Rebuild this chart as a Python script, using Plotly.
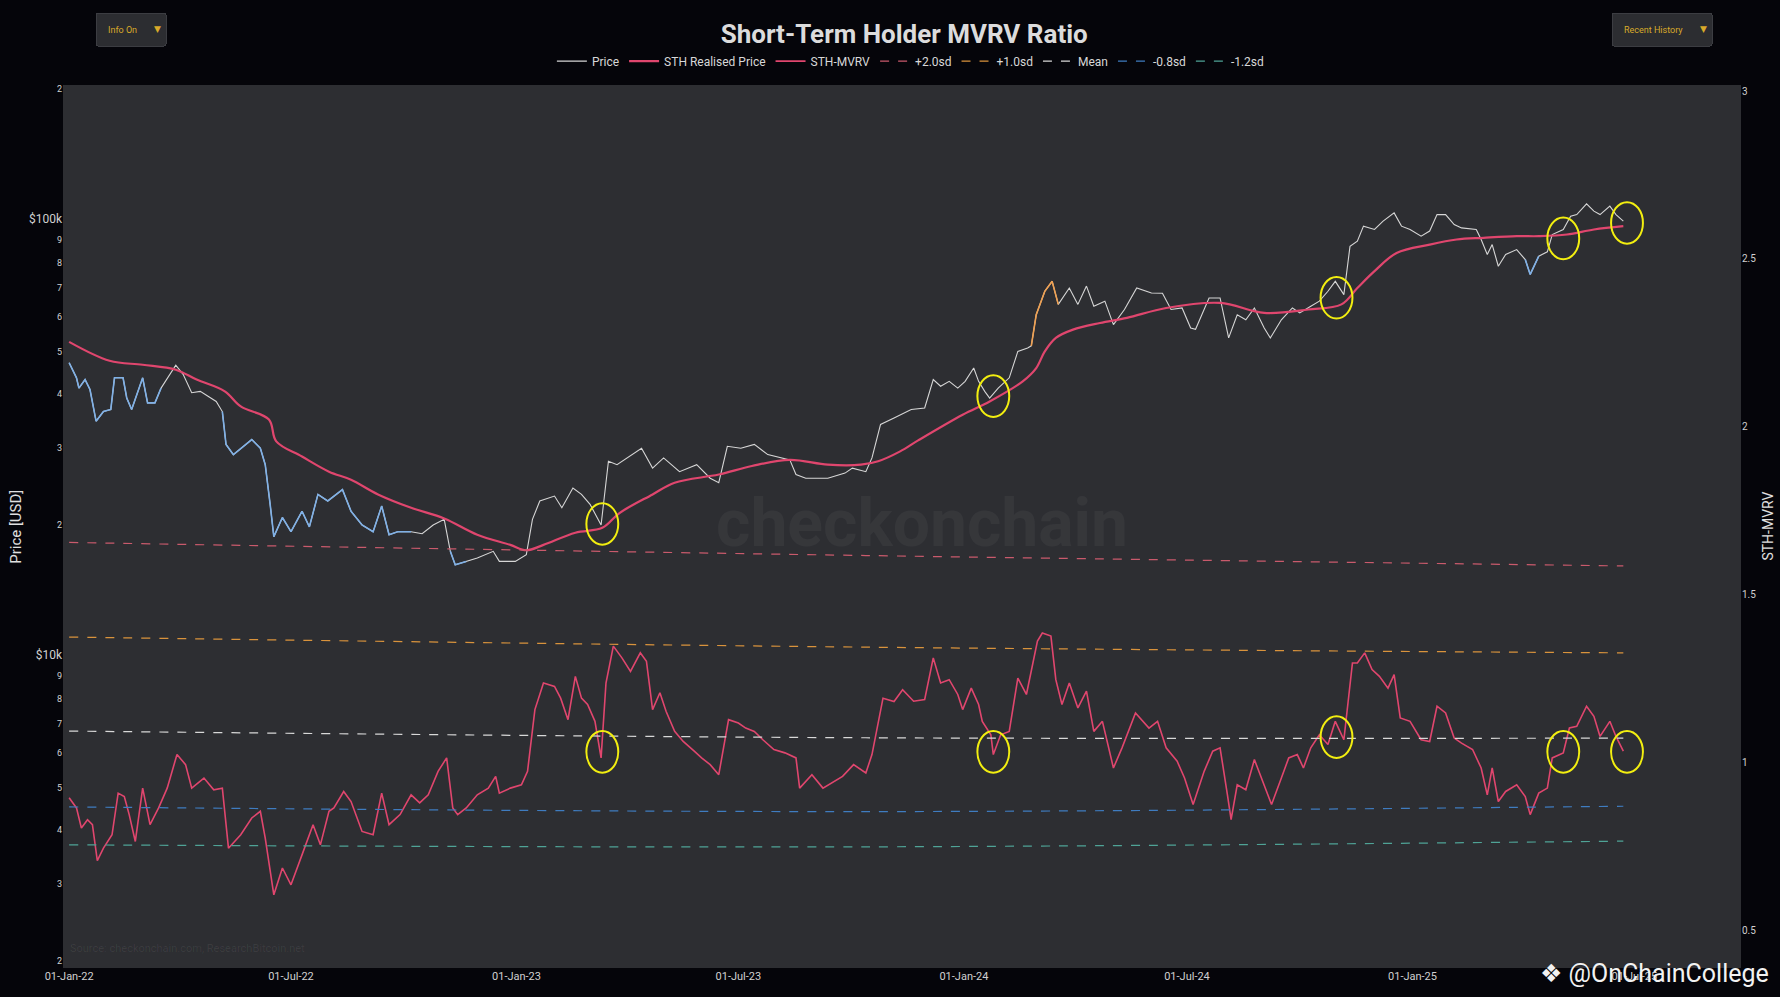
import numpy as np
import pandas as pd
import plotly.graph_objects as go

# all x values are days counted from 01-Jan-22
start = pd.Timestamp("2022-01-01")

# btc price (thousand usd)
price_day = [0, 6, 8, 13, 17, 22, 28, 34, 37, 44, 47, 51, 60, 64, 70, 75, 87, 93, 100, 107,
             113, 120, 125, 128, 134, 140, 149, 156, 160, 164, 167, 174, 181, 190, 196, 203, 211, 223, 230, 239,
             248, 255, 261, 268, 279, 288, 297, 306, 311, 315, 324, 333, 346, 351, 364, 373, 378, 384, 396, 402,
             411, 418, 425, 434, 440, 447, 467, 476, 485, 498, 512, 523, 530, 537, 548, 559, 570, 588, 593, 601,
             619, 633, 639, 650, 655, 662, 673, 687, 698, 705, 711, 718, 725, 731, 738, 742, 747, 751, 758, 767,
             774, 782, 785, 789, 796, 802, 807, 816, 823, 830, 836, 845, 852, 861, 871, 883, 892, 899, 908, 915,
             919, 930, 939, 946, 953, 960, 967, 975, 980, 989, 998, 1004, 1013, 1020, 1027, 1033, 1040, 1045, 1051, 1056,
             1065, 1072, 1081, 1087, 1094, 1103, 1110, 1116, 1123, 1130, 1136, 1148, 1152, 1157, 1161, 1166, 1172, 1181, 1188, 1192,
             1199, 1206, 1210, 1219, 1225, 1230, 1238, 1244, 1249, 1257, 1262, 1268]
price_k = [47.1, 43.5, 41.2, 43.1, 40.9, 34.6, 36.4, 36.8, 43.5, 43.5, 39.1, 36.8, 43.5, 38.1, 38.1, 41.2, 46.5, 44.3, 40.2, 40.5,
           39.5, 38.4, 36.4, 30.6, 29.0, 30.0, 31.4, 30.0, 27.5, 22.3, 18.8, 20.8, 19.3, 21.5, 19.8, 23.5, 22.7, 24.1, 21.5, 20.0,
           19.3, 22.1, 19.0, 19.3, 19.3, 19.1, 20.0, 20.6, 17.4, 16.2, 16.5, 16.8, 17.4, 16.5, 16.5, 17.1, 20.6, 22.7, 23.3, 21.9,
           24.3, 23.5, 22.3, 20.0, 28.0, 27.5, 30.0, 27.0, 28.5, 26.5, 27.5, 25.6, 25.0, 30.3, 30.0, 30.6, 29.0, 28.2, 26.1, 25.6,
           25.6, 26.3, 27.0, 26.5, 28.5, 34.0, 35.2, 36.8, 37.1, 43.1, 41.6, 42.7, 41.2, 42.7, 45.8, 42.7, 40.5, 39.1, 41.2, 43.5,
           50.0, 50.9, 51.5, 60.7, 68.7, 72.4, 64.1, 69.9, 64.1, 70.6, 63.5, 65.2, 57.6, 62.4, 69.9, 68.1, 68.0, 62.4, 62.9, 56.6,
           56.2, 66.3, 66.3, 53.7, 60.7, 59.1, 62.9, 56.6, 53.7, 59.1, 62.9, 61.3, 63.5, 65.2, 68.7, 72.4, 67.5, 87.1, 89.5, 96.9,
           95.2, 99.5, 103.9, 96.9, 95.2, 91.9, 94.4, 103.0, 103.0, 97.7, 96.0, 95.2, 90.3, 83.4, 87.9, 78.4, 83.4, 85.6, 81.2, 75.1,
           82.7, 84.6, 92.7, 95.2, 102.1, 103.0, 109.0, 104.9, 103.0, 107.7, 103.0, 99.5]

# sth realised price (thousand usd)
real_day = [0, 33, 60, 87, 104, 127, 140, 163, 169, 190, 212, 230, 252, 279, 306, 333, 360, 373, 387, 413,
            435, 449, 476, 494, 530, 557, 588, 619, 646, 660, 678, 693, 729, 751, 778, 789, 796, 805, 819, 841,
            863, 895, 939, 975, 1011, 1038, 1051, 1065, 1083, 1110, 1132, 1154, 1181, 1199, 1222, 1244, 1268]
real_k = [52.6, 47.6, 46.6, 45.4, 43.1, 40.5, 37.4, 34.9, 31.1, 28.7, 26.5, 25.4, 23.5, 21.9, 20.7, 19.0, 18.0, 17.5, 18.0, 19.2,
          19.7, 21.3, 23.5, 25.0, 26.1, 27.3, 28.2, 27.5, 27.5, 28.0, 29.5, 31.3, 35.8, 38.4, 42.7, 45.8, 50.0, 53.7, 56.1, 58.1,
          59.7, 62.9, 64.6, 61.3, 62.4, 64.1, 69.9, 76.4, 84.1, 87.9, 90.3, 91.1, 91.9, 91.9, 92.7, 95.2, 96.9]

# sth-mvrv ratio
mvrv_day = [0, 6, 10, 15, 19, 23, 28, 35, 40, 45, 49, 54, 60, 66, 73, 80, 88, 95, 100, 110,
            118, 125, 130, 140, 149, 156, 160, 167, 174, 181, 190, 199, 205, 212, 216, 224, 230, 239, 248, 255,
            261, 270, 279, 286, 293, 301, 308, 313, 317, 324, 333, 342, 348, 351, 360, 369, 374, 380, 387, 396,
            401, 407, 413, 418, 423, 429, 434, 438, 444, 451, 458, 466, 471, 476, 482, 487, 494, 501, 510, 516,
            523, 530, 538, 546, 552, 559, 566, 575, 584, 593, 596, 606, 615, 624, 631, 640, 650, 655, 660, 664,
            673, 680, 689, 698, 705, 711, 718, 725, 729, 736, 742, 745, 752, 754, 760, 767, 774, 781, 790, 794,
            801, 805, 810, 816, 823, 830, 836, 843, 852, 859, 870, 881, 888, 895, 904, 910, 917, 926, 933, 939,
            945, 948, 953, 960, 967, 975, 981, 989, 995, 1002, 1007, 1013, 1020, 1027, 1033, 1040, 1047, 1051, 1057, 1063,
            1069, 1076, 1081, 1086, 1094, 1103, 1110, 1116, 1123, 1130, 1136, 1145, 1152, 1157, 1161, 1166, 1172, 1181, 1188, 1192,
            1199, 1206, 1210, 1219, 1224, 1230, 1238, 1244, 1249, 1257, 1262, 1268]
mvrv_val = [0.894, 0.864, 0.804, 0.829, 0.814, 0.707, 0.744, 0.784, 0.908, 0.898, 0.844, 0.764, 0.923, 0.814, 0.864, 0.923, 1.023, 0.993, 0.923, 0.953,
            0.918, 0.923, 0.744, 0.784, 0.834, 0.854, 0.774, 0.605, 0.685, 0.635, 0.724, 0.814, 0.754, 0.854, 0.864, 0.913, 0.883, 0.794, 0.784, 0.908,
            0.814, 0.844, 0.903, 0.879, 0.903, 0.973, 1.013, 0.864, 0.844, 0.864, 0.903, 0.923, 0.958, 0.908, 0.923, 0.933, 0.973, 1.157, 1.236, 1.226,
            1.191, 1.127, 1.256, 1.191, 1.172, 1.122, 1.013, 1.236, 1.346, 1.311, 1.271, 1.326, 1.301, 1.157, 1.207, 1.152, 1.092, 1.062, 1.033, 1.013,
            0.993, 0.963, 1.127, 1.117, 1.102, 1.092, 1.067, 1.038, 1.028, 1.013, 0.923, 0.963, 0.923, 0.943, 0.958, 0.993, 0.968, 1.023, 1.122, 1.191,
            1.181, 1.216, 1.182, 1.187, 1.311, 1.236, 1.246, 1.202, 1.157, 1.221, 1.172, 1.122, 1.082, 1.023, 1.082, 1.092, 1.251, 1.202, 1.361, 1.385,
            1.376, 1.246, 1.172, 1.236, 1.162, 1.212, 1.092, 1.122, 0.983, 1.043, 1.147, 1.102, 1.122, 1.043, 1.003, 0.953, 0.874, 0.973, 1.033, 1.043,
            0.903, 0.829, 0.933, 0.918, 1.008, 0.933, 0.874, 0.953, 1.013, 1.023, 0.983, 1.043, 1.082, 1.053, 1.122, 1.067, 1.296, 1.296, 1.326, 1.276,
            1.256, 1.221, 1.261, 1.132, 1.122, 1.067, 1.062, 1.167, 1.147, 1.072, 1.057, 1.038, 0.983, 0.903, 0.983, 0.883, 0.913, 0.933, 0.898, 0.844,
            0.908, 0.923, 1.013, 1.028, 1.102, 1.107, 1.167, 1.137, 1.077, 1.122, 1.077, 1.033]

# standard deviation bands of sth-mvrv (start, middle, end)
band_day = [0, 650, 1268]
band_plus2 = [1.655, 1.616, 1.585]
band_plus1 = [1.373, 1.343, 1.326]
band_mean = [1.093, 1.073, 1.072]
band_minus08 = [0.867, 0.853, 0.869]
band_minus12 = [0.754, 0.748, 0.765]

# yellow circles (day, level on the mvrv scale) for the upper and lower panes
circle_day = [435, 754, 1034, 1219, 1271]
circle_upper = [1.710, 2.091, 2.384, 2.561, 2.607]
circle_lower = [1.031, 1.031, 1.075, 1.031, 1.031]


def to_dates(days):
    return start + pd.to_timedelta(np.array(days), unit="D")


price = np.array(price_k) * 1000
real = np.array(real_k) * 1000

#colour the price blue below the -0.8sd band and orange above the +1.0sd band
mv_at_price = np.interp(price_day, mvrv_day, mvrv_val)
low_mask = mv_at_price < np.interp(price_day, band_day, band_minus08)
high_mask = mv_at_price > np.interp(price_day, band_day, band_plus1)
low_mask = low_mask | np.roll(low_mask, 1) | np.roll(low_mask, -1)
high_mask = high_mask | np.roll(high_mask, 1) | np.roll(high_mask, -1)
price_low = np.where(low_mask, price, np.nan)
price_high = np.where(high_mask, price, np.nan)

fig = go.Figure()

bands = [("+2.0sd", band_plus2, "#c95a6c"), ("+1.0sd", band_plus1, "#d9933c"), ("Mean", band_mean, "#d8d8d8"),
         ("-0.8sd", band_minus08, "#3f7cc0"), ("-1.2sd", band_minus12, "#4fa396")]

fig.add_trace(go.Scatter(x=to_dates(price_day), y=price, mode="lines", name="Price",
                         line=dict(color="#d6d6d6", width=1.1), yaxis="y"))
fig.add_trace(go.Scatter(x=to_dates(price_day), y=price_low, mode="lines", showlegend=False,
                         line=dict(color="#7fb0e6", width=1.6), yaxis="y"))
fig.add_trace(go.Scatter(x=to_dates(price_day), y=price_high, mode="lines", showlegend=False,
                         line=dict(color="#f0a050", width=1.6), yaxis="y"))
fig.add_trace(go.Scatter(x=to_dates(real_day), y=real, mode="lines", name="STH Realised Price",
                         line=dict(color="#e0466e", width=2.2, shape="spline"), yaxis="y"))
fig.add_trace(go.Scatter(x=to_dates(mvrv_day), y=mvrv_val, mode="lines", name="STH-MVRV",
                         line=dict(color="#e0466e", width=1.6), yaxis="y2"))
for name, vals, col in bands:
    fig.add_trace(go.Scatter(x=to_dates(band_day), y=vals, mode="lines", name=name,
                             line=dict(color=col, width=1.2, dash="dash", shape="spline"), yaxis="y2"))

#yellow circles
circle_dates = to_dates(circle_day)
for d, up, lo in zip(circle_dates, circle_upper, circle_lower):
    for c in (up, lo):
        fig.add_shape(type="circle", xref="x", yref="y2",
                      x0=d - pd.Timedelta(days=13), x1=d + pd.Timedelta(days=13),
                      y0=c - 0.062, y1=c + 0.062,
                      line=dict(color="#f2ee10", width=2))

#price axis ticks: digits between decades, dollar labels on the decades
tick_vals = []
tick_text = []
for dec in (1000, 10000, 100000):
    for m in range(1, 10):
        v = m * dec
        if v < 2000 or v > 200000:
            continue
        tick_vals.append(v)
        if m == 1:
            tick_text.append("<span style='font-size:12px'>$%dk</span>" % (v // 1000))
        else:
            tick_text.append(str(m))
tick_vals.append(200000)
tick_text.append("2")

fig.update_layout(
    width=1780, height=997,
    paper_bgcolor="#05050a", plot_bgcolor="#2d2e32",
    font=dict(family="Roboto, DejaVu Sans", color="#d8d8d8", size=11),
    margin=dict(l=63, r=39, t=85, b=29),
    title=dict(text="<b>Short-Term Holder MVRV Ratio</b>", x=0.508, xanchor="center", y=0.966, yanchor="middle",
               font=dict(size=26, color="#dcdcdc", family="Roboto, DejaVu Sans")),
    legend=dict(orientation="h", x=0.505, xanchor="center", y=1.027, yanchor="middle",
                font=dict(size=12, color="#d8d8d8"), bgcolor="rgba(0,0,0,0)", itemwidth=30,
                tracegroupgap=0),
    showlegend=True,
    xaxis=dict(type="date", range=[start - pd.Timedelta(days=5), start + pd.Timedelta(days=1364)],
               tick0="2022-01-01", dtick="M6", tickformat="%d-%b-%y", showgrid=False, zeroline=False,
               ticks="", tickfont=dict(size=11, color="#d0d0d0")),
    yaxis=dict(type="log", range=[3.285, 5.31], tickvals=tick_vals, ticktext=tick_text, showgrid=False,
               zeroline=False, ticks="", tickfont=dict(size=9, color="#d0d0d0")),
    yaxis2=dict(overlaying="y", side="right", range=[0.387, 3.018], tick0=0.5, dtick=0.5, showgrid=False,
                zeroline=False, ticks="", tickfont=dict(size=10, color="#d0d0d0")),
    updatemenus=[
        dict(type="dropdown", buttons=[dict(label="Info On", method="skip", args=[None])],
             x=0.019, xanchor="left", y=1.083, yanchor="top", bgcolor="#2c2d31", bordercolor="#3c3d42",
             font=dict(color="#d9aa2a", size=9), showactive=False, pad=dict(t=0, b=0, l=0, r=0)),
        dict(type="dropdown", buttons=[dict(label="Recent History", method="skip", args=[None])],
             x=0.9225, xanchor="left", y=1.083, yanchor="top", bgcolor="#2c2d31", bordercolor="#3c3d42",
             font=dict(color="#d9aa2a", size=9), showactive=False, pad=dict(t=0, b=0, l=0, r=0)),
    ],
)

#axis titles placed by hand so they sit at the outer edges like the original
fig.add_annotation(text="Price [USD]", xref="paper", yref="paper", x=-0.035, y=0.5, textangle=-90,
                   showarrow=False, font=dict(size=15, color="#e0e0e0"))
fig.add_annotation(text="STH-MVRV", xref="paper", yref="paper", x=1.0215, y=0.5, textangle=-90,
                   showarrow=False, font=dict(size=14, color="#e0e0e0"))

#watermarks
fig.add_annotation(text="<b>checkonchain</b>", xref="paper", yref="paper", x=0.512, y=0.503,
                   showarrow=False, font=dict(size=66, color="rgba(255,255,255,0.045)"))
fig.add_annotation(text="Source: checkonchain.com, ResearchBitcoin.net", xref="paper", yref="paper",
                   x=0.003, y=0.012, xanchor="left", yanchor="bottom", showarrow=False,
                   font=dict(size=11, color="rgba(255,255,255,0.07)"))
fig.add_annotation(text="❖ @OnChainCollege", xref="paper", yref="paper", x=1.018, y=-0.006,
                   xanchor="right", yanchor="middle", showarrow=False,
                   font=dict(size=25, color="#f2f2f2"))

fig.write_html("out.html", config={"displayModeBar": False},
               post_script="document.body.style.margin='0';document.body.style.background='#05050a';")
